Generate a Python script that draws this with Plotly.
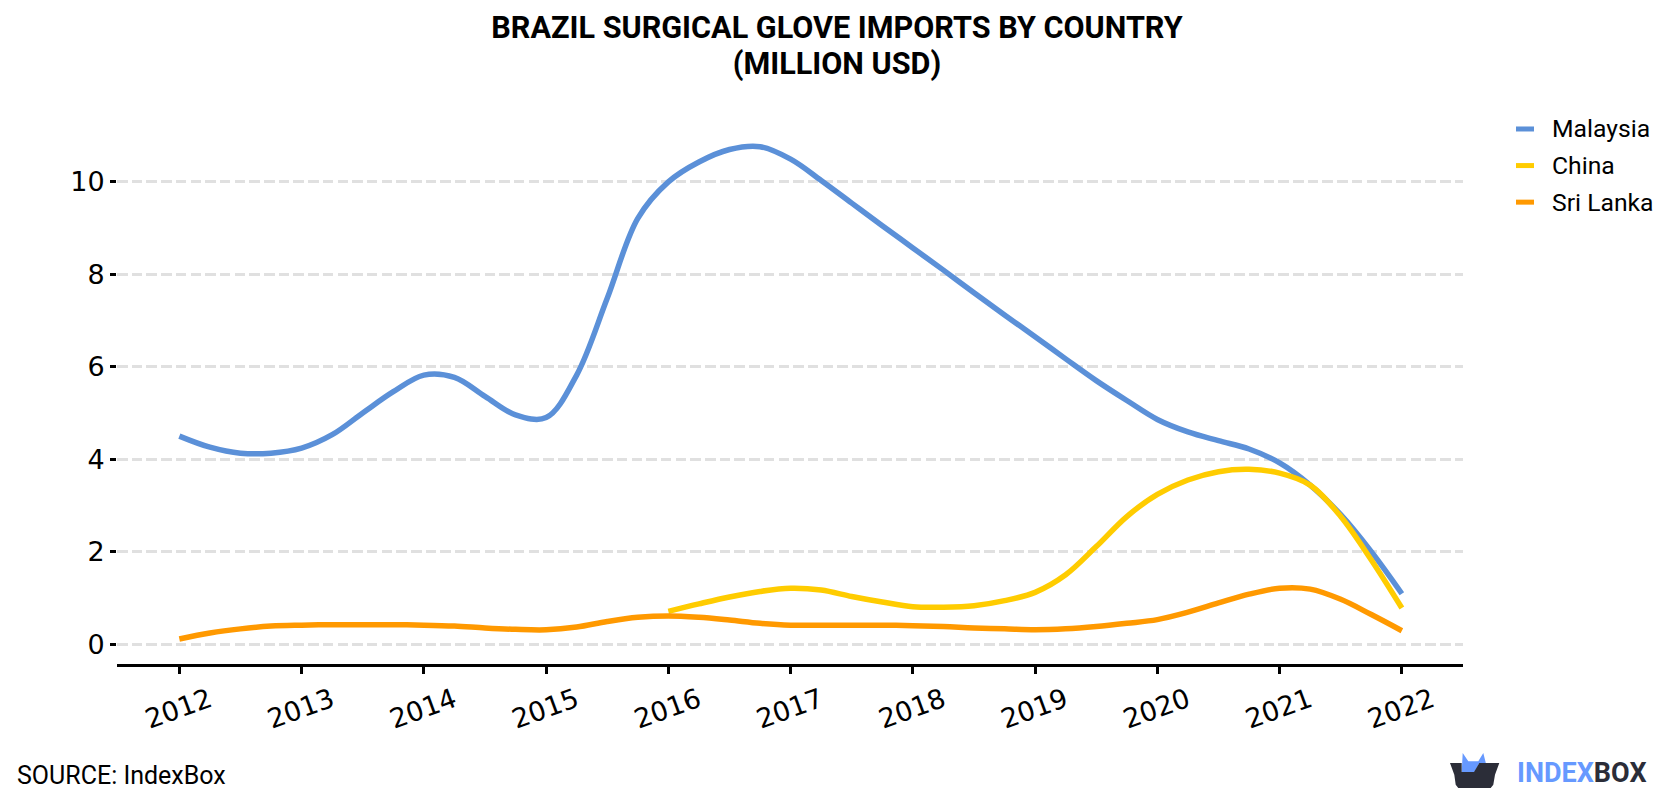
import plotly.graph_objects as go

# Import values in million USD, read quarter by quarter along each curve
periods = [
    2012.0, 2012.25, 2012.5, 2012.75, 2013.0, 2013.25, 2013.5, 2013.75, 2014.0, 2014.25, 2014.5, 2014.75,
    2015.0, 2015.25, 2015.5, 2015.75, 2016.0, 2016.25, 2016.5, 2016.75, 2017.0, 2017.25, 2017.5, 2017.75,
    2018.0, 2018.25, 2018.5, 2018.75, 2019.0, 2019.25, 2019.5, 2019.75, 2020.0, 2020.25, 2020.5, 2020.75,
    2021.0, 2021.25, 2021.5, 2021.75, 2022.0,
]
malaysia = [
    4.50, 4.26, 4.13, 4.13, 4.24, 4.53, 5.00, 5.46, 5.82, 5.77, 5.36, 4.96,
    4.90, 5.82, 7.48, 9.21, 10.0, 10.43, 10.70, 10.76, 10.49, 10.03, 9.54, 9.05,
    8.57, 8.09, 7.60, 7.12, 6.65, 6.17, 5.70, 5.27, 4.86, 4.59, 4.40, 4.22,
    3.92, 3.44, 2.80, 2.00, 1.09,
]
china = [
    None, None, None, None, None, None, None, None, None, None, None, None,
    None, None, None, None, 0.71, 0.87, 1.02, 1.14, 1.21, 1.17, 1.03, 0.91,
    0.81, 0.80, 0.83, 0.94, 1.12, 1.50, 2.11, 2.76, 3.24, 3.55, 3.73, 3.78,
    3.70, 3.44, 2.76, 1.82, 0.78,
]
sri_lanka = [
    0.11, 0.24, 0.33, 0.39, 0.41, 0.42, 0.42, 0.42, 0.41, 0.39, 0.35, 0.32,
    0.31, 0.37, 0.49, 0.58, 0.61, 0.58, 0.52, 0.45, 0.41, 0.41, 0.41, 0.41,
    0.40, 0.38, 0.35, 0.33, 0.31, 0.33, 0.38, 0.45, 0.53, 0.69, 0.89, 1.08,
    1.21, 1.19, 0.97, 0.64, 0.29,
]

series_names = ["Malaysia", "China", "Sri Lanka"]
series_values = [malaysia, china, sri_lanka]
series_colors = ["#5B90D8", "#FFCC00", "#FF9900"]
year_ticks = [2012, 2013, 2014, 2015, 2016, 2017, 2018, 2019, 2020, 2021, 2022]
y_ticks = [0, 2, 4, 6, 8, 10]

W, H = 1680, 800
L, R, T, B = 117, 1463, 100, 664.3


def fx(px):
    return (px - L) / (R - L)


def fy(py):
    return (B - py) / (B - T)


fig = go.Figure()
for name, vals, col in zip(series_names, series_values, series_colors):
    fig.add_trace(go.Scatter(
        x=periods, y=vals, name=name, mode="lines", showlegend=False,
        line=dict(color=col, width=5.5, shape="spline", smoothing=1.0),
    ))

shapes = []
annotations = []

# Key at the upper right
for i, (name, col) in enumerate(zip(series_names, series_colors)):
    yc = 129 + i * 36.6
    shapes.append(dict(type="line", xref="paper", yref="paper",
                       x0=fx(1516), x1=fx(1534), y0=fy(yc), y1=fy(yc),
                       line=dict(color=col, width=5)))
    annotations.append(dict(xref="paper", yref="paper", x=fx(1550), y=fy(yc),
                            text=name, showarrow=False, xanchor="left", yanchor="middle",
                            font=dict(family="Roboto", size=24.7, color="#000")))

# Source line
annotations.append(dict(xref="paper", yref="paper", x=fx(15), y=fy(776),
                        text="SOURCE: IndexBox", showarrow=False,
                        xanchor="left", yanchor="middle",
                        font=dict(family="Roboto", size=25, color="#000")))

# Brand wordmark
annotations.append(dict(xref="paper", yref="paper", x=fx(1515), y=fy(773),
                        text="<b><span style='color:#6699FF'>INDEX</span>BOX</b>",
                        showarrow=False, xanchor="left", yanchor="middle",
                        font=dict(family="Roboto", size=27, color="#2B2D38")))


def px_path(points):
    parts = []
    for j, (px, py) in enumerate(points):
        parts.append(("M" if j == 0 else "L") + f"{fx(px):.5f},{fy(py):.5f}")
    return " ".join(parts) + " Z"


# Brand icon: open box with blue contents
shapes.append(dict(type="path", xref="paper", yref="paper", line_width=0, fillcolor="#6699FF",
                   path=px_path([(1461.7, 773), (1462.7, 753.3), (1468.3, 761.7), (1478.3, 761.7),
                                 (1483.3, 753.3), (1486, 764), (1479, 764), (1474, 773)])))
shapes.append(dict(type="path", xref="paper", yref="paper", line_width=0, fillcolor="#2B2D38",
                   path=px_path([(1450, 763.3), (1461.7, 763.3), (1461.7, 772.3), (1474, 772.3),
                                 (1479.3, 763.3), (1499.3, 763.3), (1495, 775), (1493.3, 785),
                                 (1490.7, 788.3), (1458.3, 788.3), (1455.7, 785), (1454.3, 775)])))

# The outer size sets the line spacing, the inner spans set the glyph size
title_span = "<span style='font-size:30.6px'><b>{}</b></span>"
title_text = (title_span.format("BRAZIL SURGICAL GLOVE IMPORTS BY COUNTRY") + "<br>"
              + title_span.format("(MILLION USD)"))

fig.update_layout(
    width=W, height=H, autosize=False,
    margin=dict(l=L, r=W - R, t=T, b=H - B, pad=0),
    paper_bgcolor="#fff", plot_bgcolor="#fff",
    title=dict(text=title_text,
               x=837 / W, xanchor="center", y=1 - 38 / H, yanchor="middle",
               font=dict(family="Roboto", size=28, color="#000")),
    xaxis=dict(range=[2011.49, 2022.5], tickmode="array", tickvals=year_ticks,
               ticktext=[str(y) for y in year_ticks], tickangle=-20, ticklabelshift=30,
               showgrid=False, zeroline=False, showline=True, linecolor="#000", linewidth=3,
               ticks="outside", ticklen=7, tickwidth=3, tickcolor="#000",
               tickfont=dict(family="DejaVu Sans", size=27, color="#000")),
    yaxis=dict(range=[-0.43, 11.77], tickmode="array", tickvals=y_ticks,
               showgrid=True, gridcolor="#E0E0E0", gridwidth=3, griddash="10.5px,4.2px",
               zeroline=False, showline=False,
               ticks="outside", ticklen=6, tickwidth=3, tickcolor="#000",
               tickfont=dict(family="DejaVu Sans", size=27, color="#000")),
    shapes=shapes, annotations=annotations,
)

fig.write_html("out.html")
